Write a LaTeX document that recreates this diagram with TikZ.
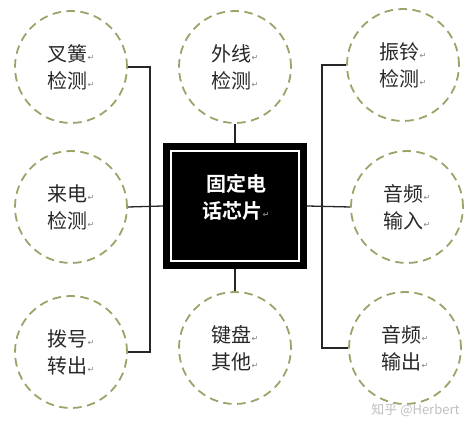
\documentclass[tikz,border=0pt]{standalone}
\usepackage{fontspec}
\usepackage{tikz}
\usetikzlibrary{calc}
\setmainfont{Noto Sans CJK SC}[BoldFont={Noto Sans CJK SC Bold}]
\newfontfamily\symfont{DejaVu Sans}
\definecolor{ringgreen}{RGB}{150,166,104}
\definecolor{labelgray}{RGB}{40,40,40}
\newcommand{\ret}{{\symfont\fontsize{8}{8}\selectfont\color{gray}\raisebox{1pt}{↵}}}

\begin{document}
\begin{tikzpicture}[x=1pt,y=-1pt,
    ring/.style={circle,draw=ringgreen,line width=1.8pt,dash pattern=on 8.5pt off 5.5pt,
        minimum size=112pt,inner sep=0pt,align=center,text=labelgray,
        font=\fontsize{20}{27}\selectfont},
    wire/.style={line width=1.3pt,draw=black!85}]
\useasboundingbox (0,0) rectangle (474,427);
        \coordinate (lbus) at (150,207);
        \coordinate (rbus) at (322,207);
        \node[ring] (chahuang) at (71,67) {叉簧\ret\\检测\ret};
        \node[ring] (laidian) at (71,207) {来电\ret\\检测\ret};
        \node[ring] (bohao) at (71,352) {拨号\ret\\转出\ret};
        \node[ring] (waixian) at (235,67) {外线\ret\\检测\ret};
        \node[ring] (jianpan) at (235,348) {键盘\ret\\其他\ret};
        \node[ring] (zhenling) at (403,65) {振铃\ret\\检测\ret};
        \node[ring] (yinpinin) at (407,207) {音频\ret\\输入\ret};
        \node[ring] (yinpinout) at (405,348) {音频\ret\\输出\ret};
        \node[fill=black,minimum width=144pt,minimum height=126pt,inner sep=0pt] (chip) at (235,206) {};
        \draw[white,line width=2.2pt] ($(chip.north west)+(8.5,8.5)$) rectangle ($(chip.south east)+(-8.5,-8.5)$);
        \node[text=white,align=center,font=\bfseries\fontsize{20}{27}\selectfont] (chiptext) at (236,197) {固定电\\话芯片\ret};
        \draw[wire] (chahuang.east) -| (lbus) |- (bohao.east);
        \draw[wire] (laidian.east) -- (chip.west);
        \draw[wire] (zhenling.west) -| (rbus) |- (yinpinout.west);
        \draw[wire] (chip.east) -- (yinpinin.west);
        \draw[wire] (waixian.south) -- (chip.north);
        \draw[wire] (chip.south) -- (jianpan.north);
        \node[text=black!25,font=\fontsize{13}{13}\selectfont,anchor=east] (mark) at (463,410) {知乎 @Herbert};
\end{tikzpicture}
\end{document}
